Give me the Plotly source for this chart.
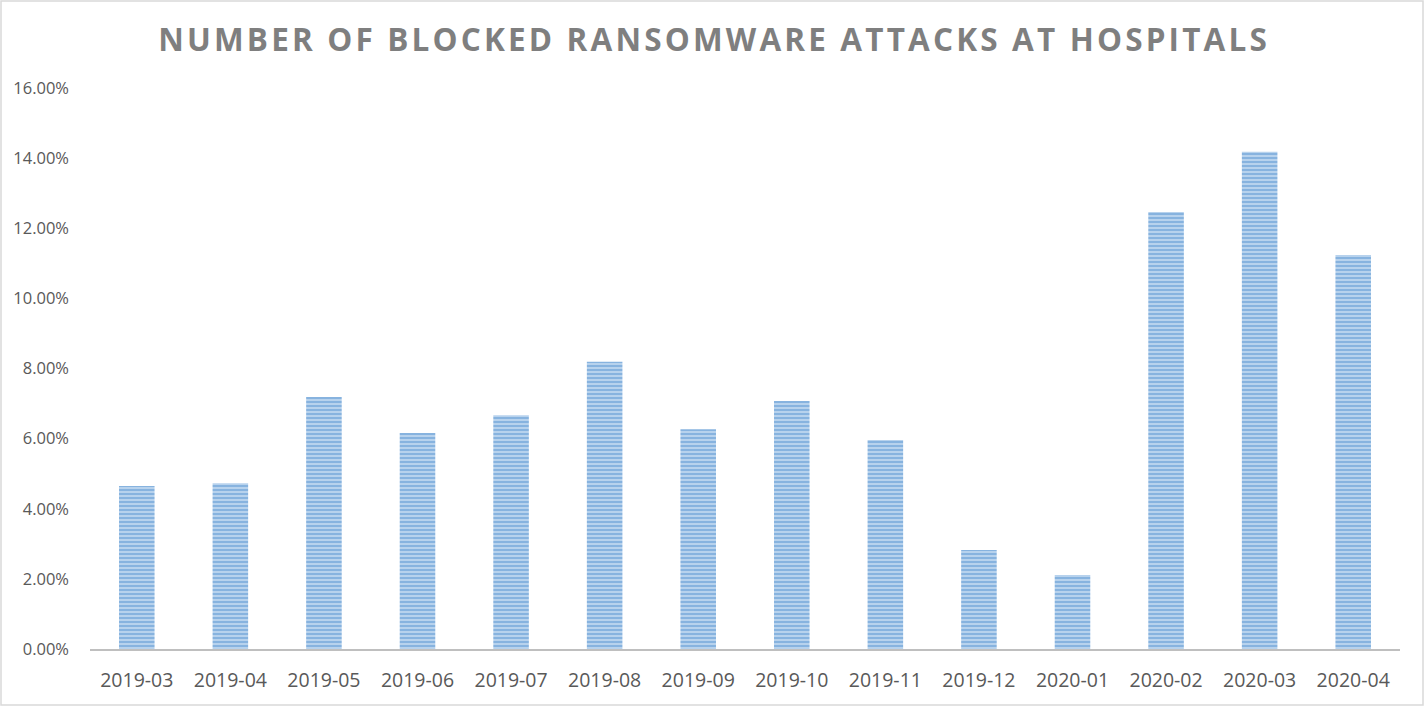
import plotly.graph_objects as go

# monthly share of blocked ransomware attacks (percent)
months = ["2019-03", "2019-04", "2019-05", "2019-06", "2019-07", "2019-08", "2019-09",
          "2019-10", "2019-11", "2019-12", "2020-01", "2020-02", "2020-03", "2020-04"]
share_pct = [4.65, 4.73, 7.19, 6.16, 6.67, 8.19, 6.27, 7.07, 5.96, 2.82, 2.11, 12.46, 14.18, 11.24]

y_ticks = [0, 2, 4, 6, 8, 10, 12, 14, 16]
y_tick_text = [f"{v:.2f}%" for v in y_ticks]

title = "NUMBER OF BLOCKED RANSOMWARE ATTACKS AT HOSPITALS"
# fake letter spacing with hair spaces
title_spaced = "\u200a".join(title)

fig = go.Figure()
fig.add_trace(go.Bar(
    x=months,
    y=share_pct,
    width=0.38,
    marker=dict(
        color="#C3DAF1",
        line=dict(width=0),
        pattern=dict(shape="-", fgcolor="#4C8CCD", bgcolor="#C3DAF1", size=4, solidity=0.6),
    ),
    hovertemplate="%{x}: %{y:.2f}%<extra></extra>",
))

fig.update_layout(
    width=1425,
    height=707,
    margin=dict(l=90, r=25, t=88, b=58),
    paper_bgcolor="white",
    plot_bgcolor="white",
    showlegend=False,
    title=dict(
        text=title_spaced,
        x=0.5,
        xanchor="center",
        y=0.943,
        yanchor="middle",
        font=dict(family="Open Sans", size=31.5, color="#7F7F7F", weight="bold"),
    ),
    font=dict(family="Open Sans", color="#595959"),
)

fig.update_xaxes(
    type="category",
    showgrid=False,
    showline=True,
    linecolor="#BFBFBF",
    linewidth=2,
    ticks="",
    tickfont=dict(size=19.5, color="#595959"),
    ticklabelstandoff=13,
)
fig.update_yaxes(
    range=[0, 16],
    tickvals=y_ticks,
    ticktext=y_tick_text,
    showgrid=False,
    zeroline=False,
    showline=False,
    ticks="",
    tickfont=dict(size=16.5, color="#595959"),
    ticklabelstandoff=20,
)

# thin chart border like the spreadsheet chart area
fig.add_shape(type="rect", xref="paper", yref="paper",
              x0=-89 / 1310, x1=1 + 23 / 1310, y0=-56 / 561, y1=1 + 87 / 561,
              line=dict(color="#D9D9D9", width=1.5), fillcolor="rgba(0,0,0,0)")

# drop the default 8px body margin so the figure fills the window
fig.write_html("out.html", config={"displayModeBar": False},
               post_script="document.body.style.margin='0';")
